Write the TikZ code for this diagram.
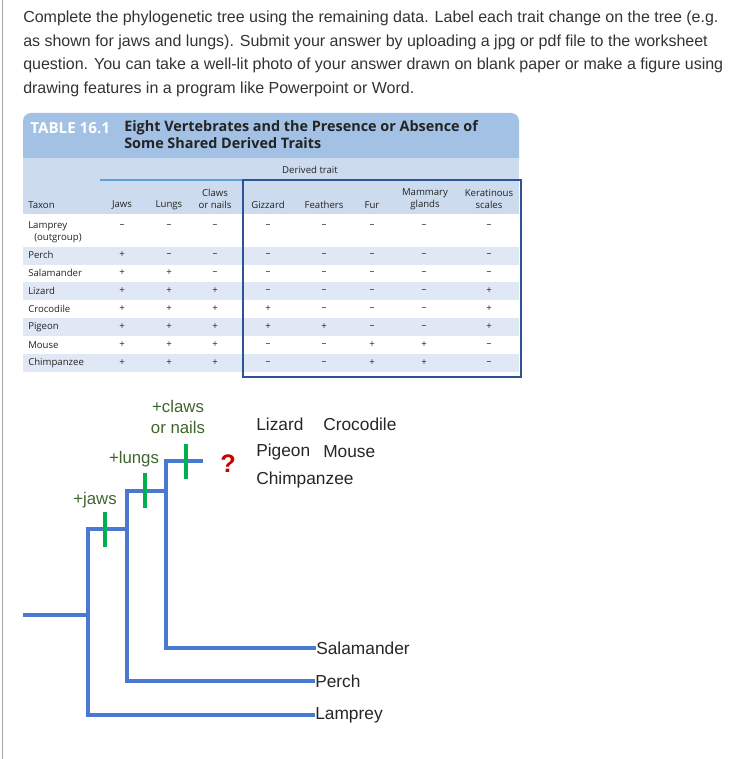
\documentclass[tikz,border=0pt]{standalone}
\usepackage{fontspec}
\setmainfont{Liberation Sans}
\newfontfamily\tabfont{Open Sans}
\usetikzlibrary{positioning}

\definecolor{treeblue}{RGB}{74,122,208}
\definecolor{tickgreen}{RGB}{0,176,80}
\definecolor{labelgreen}{RGB}{62,102,44}
\definecolor{qred}{RGB}{200,0,0}
\definecolor{titleband}{RGB}{162,193,228}
\definecolor{headband}{RGB}{204,219,238}
\definecolor{rowband}{RGB}{224,232,245}
\definecolor{ruleblue}{RGB}{92,160,214}
\definecolor{boxblue}{RGB}{46,82,150}
\definecolor{bodygray}{RGB}{51,51,51}
\definecolor{tabtext}{RGB}{35,35,35}

\newcommand{\lowdash}{\raisebox{-0.35ex}{–}}

\begin{document}
\begin{tikzpicture}[
    x=0.75pt, y=-0.75pt,
    para/.style={anchor=west, inner sep=0pt, font=\fontsize{12}{14}\selectfont, text=bodygray},
    cell/.style={inner sep=0pt, font=\tabfont\fontsize{7.2}{8.6}\selectfont, text=tabtext, align=center},
    branch/.style={treeblue, line width=2.4pt},
    tick/.style={tickgreen, line width=3pt},
    trait/.style={inner sep=0pt, font=\fontsize{12.6}{15.5}\selectfont, text=labelgreen, align=center},
    taxon/.style={anchor=west, inner sep=0pt, font=\fontsize{13}{15}\selectfont, text=black!85},
]
\useasboundingbox (0,0) rectangle (733,759);
\draw[black!35, line width=0.9pt] (2.5,0) -- (2.5,759);

% Question text
\node[para] (q1) at (23,18) {Complete the phylogenetic tree using the remaining data. Label each trait change on the tree (e.g.};
\node[para] (q2) at (23,42) {as shown for jaws and lungs). Submit your answer by uploading a jpg or pdf file to the worksheet};
\node[para] (q3) at (23,65) {question. You can take a well-lit photo of your answer drawn on blank paper or make a figure using};
\node[para] (q4) at (23,89) {drawing features in a program like Powerpoint or Word.};

% Table bands
\fill[titleband, rounded corners=6pt] (23,113) rectangle (519,168);
\fill[headband] (23,158) rectangle (519,214);
\foreach \ya in {247,282,318,354}
    \fill[rowband] (23,\ya) rectangle (519,\ya+18);
\draw[ruleblue, line width=0.8pt] (100,180) -- (243,180);
\draw[boxblue, line width=2.2pt] (243,180) rectangle (521,377);

% Table title
\node[cell, anchor=west, text=white, font=\tabfont\bfseries\fontsize{11.4}{12}\selectfont] (tabno) at (30,128) {TABLE 16.1};
\node[cell, anchor=north west, align=left, font=\tabfont\bfseries\fontsize{10.8}{13.2}\selectfont] (tabtitle) at (124,120)
    {Eight Vertebrates and the Presence or Absence of\\Some Shared Derived Traits};

% Column heads
\node[cell] (dtrait) at (310,170) {Derived trait};
\node[cell, anchor=west] (hTaxon) at (28,205) {Taxon};
\node[cell] (hJaws) at (122,205) {Jaws};
\node[cell] (hLungs) at (169,205) {Lungs};
\node[cell] (hClaws) at (215,199) {Claws\\or nails};
\node[cell] (hGizzard) at (268,205) {Gizzard};
\node[cell] (hFeathers) at (324,205) {Feathers};
\node[cell] (hFur) at (372,205) {Fur};
\node[cell] (hMammary) at (425,199) {Mammary\\glands};
\node[cell] (hKeratin) at (489,199) {Keratinous\\scales};

% Table rows
\node[cell, anchor=west] (rLamprey) at (28,226) {Lamprey};
\node[cell, anchor=west] (rOutgroup) at (34,238) {(outgroup)};
\foreach \nm/\yy/\vals in {
    Lamprey/226/{–,–,–,–,–,–,–,–},
    Perch/255/{+,–,–,–,–,–,–,–},
    Salamander/273/{+,+,–,–,–,–,–,–},
    Lizard/291/{+,+,+,–,–,–,–,+},
    Crocodile/309/{+,+,+,+,–,–,–,+},
    Pigeon/327/{+,+,+,+,+,–,–,+},
    Mouse/345/{+,+,+,–,–,+,+,\lowdash},
    Chimpanzee/363/{+,+,+,–,–,+,+,\lowdash}} {
  \foreach \v [count=\i] in \vals {
    \pgfmathsetmacro{\xx}{{122,169,215,268,324,372,424,489}[\i-1]}
    \node[cell] (c-\nm-\i) at (\xx,\yy) {\v};
  }
}
\foreach \nm/\yy in {Perch/255, Salamander/273, Lizard/291, Crocodile/309,
                     Pigeon/327, Mouse/345, Chimpanzee/363}
    \node[cell, anchor=west] (r\nm) at (28,\yy) {\nm};

% Tree
\node[taxon] (sal) at (316,648) {Salamander};
\node[taxon] (perch) at (315,681) {Perch};
\node[taxon] (lamp) at (315,715) {Lamprey};
\coordinate (root) at (23,615);
\coordinate (c1) at (88,529);
\coordinate (c2) at (127,491);
\coordinate (c3) at (166,461);
\coordinate (tip) at (203,461);

\draw[branch] (root) -- (root -| c1);
\draw[branch] (lamp.west) -| (c1) -| (c2) -| (c3) -- (tip);
\draw[branch] (perch.west) -| (c2);
\draw[branch] (sal.west) -| (c3);

% Trait changes
\draw[tick] (105,512) -- (105,547);
\draw[tick] (145,473) -- (145,508);
\draw[tick] (186,444) -- (186,479);
\node[trait] (jaws) at (95,500) {+jaws};
\node[trait] (lungs) at (134,459) {+lungs};
\node[trait] (claws) at (178,417) {+claws\\or nails};
\node[font=\bfseries\fontsize{19}{21}\selectfont, text=qred, inner sep=0pt] (qmark) at (228,464) {?};

% Remaining taxa
\node[taxon] (lizard) at (256,424) {Lizard};
\node[taxon] (croc) at (323,424) {Crocodile};
\node[taxon] (pigeon) at (256,452) {Pigeon};
\node[taxon] (mouse) at (323,452) {Mouse};
\node[taxon] (chimp) at (256,480) {Chimpanzee};
\end{tikzpicture}
\end{document}
